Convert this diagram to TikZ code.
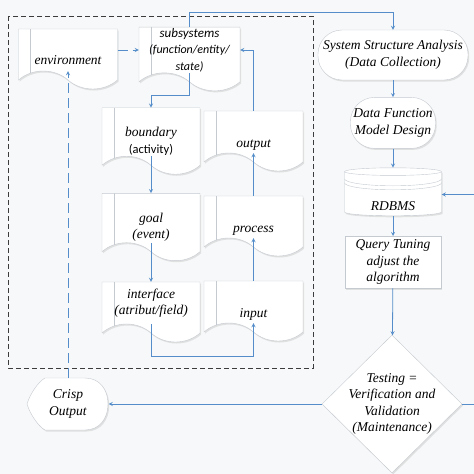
\documentclass[tikz,border=0pt]{standalone}
\usepackage{fontspec}
\setmainfont{Liberation Serif}
\newfontfamily\calibri{Carlito}
\usepackage{xcolor}
\usetikzlibrary{shapes,shapes.symbols,shapes.geometric,arrows,positioning,calc,shadows}

\definecolor{pagebg}{RGB}{247,248,249}
\definecolor{flowblue}{RGB}{84,141,201}
\definecolor{shapeline}{RGB}{196,202,208}
\definecolor{boxline}{RGB}{60,60,60}

\begin{document}
\begin{tikzpicture}[x=1pt, y=-1pt, node distance=18pt,
    every node/.style={font=\fontsize{13.5}{16.5}\selectfont\itshape},
    softshadow/.style={drop shadow={shadow xshift=1.2pt, shadow yshift=-1.5pt, opacity=0.25, fill=black!40}},
    docshape/.style={tape, tape bend top=none, tape bend bottom=out and in, tape bend height=18pt, draw=shapeline, fill=white, minimum width=99pt, minimum height=60pt, inner sep=1pt, align=center, softshadow,
        path picture={\draw[shapeline] ([xshift=12pt]path picture bounding box.north west) -- ([xshift=12pt]path picture bounding box.south west);}},
    lowtext/.style={text height=#1},
    terminal/.style={rectangle, rounded corners=24pt, draw=shapeline, fill=white, minimum width=150pt, minimum height=50pt, inner sep=1pt, align=center, softshadow},
    dbase/.style={cylinder, shape border rotate=90, aspect=0.15, draw=shapeline, fill=white, minimum width=97pt, minimum height=48pt, align=center, softshadow},
    process/.style={rectangle, draw=shapeline, fill=white, minimum width=96pt, minimum height=52pt, inner sep=1pt, align=center, softshadow},
    decision/.style={diamond, aspect=1, draw=shapeline, fill=white, minimum width=140pt, minimum height=138pt, inner sep=-6pt, align=center, softshadow},
    arrow/.style={thick, draw=flowblue, ->, >=stealth},
    dasharrow/.style={arrow, dash pattern=on 10pt off 5pt}]

    \fill[pagebg] (0,0) rectangle (474,474);
    \useasboundingbox (0,0) rectangle (474,474);

    % model boxes
    \node[docshape, lowtext=29pt] (environment) at (68,50) {environment};
    \node[docshape, minimum width=101pt] (subsystems) at (189.5,50) {{\calibri\fontsize{13}{16.5}\selectfont\itshape subsystems}\\{\calibri\fontsize{12}{16.5}\selectfont\itshape (function/entity/}\\{\calibri\fontsize{12}{16.5}\selectfont\itshape state)}};
    \node[docshape, minimum width=98pt] (boundary) at (151,132) {\rule{0pt}{28pt}boundary\\{\calibri\fontsize{12.5}{16.5}\selectfont\upshape (activity)}};
    \node[docshape, lowtext=34pt] (output) at (253.5,132) {output};
    \node[docshape, minimum width=98pt] (goal) at (151,218) {\rule{0pt}{28pt}goal\\(event)};
    \node[docshape, lowtext=34pt] (process) at (253.5,217) {process};
    \node[docshape, minimum width=98pt] (interface) at (151,303) {interface\\(atribut/field)};
    \node[docshape, lowtext=34pt] (input) at (253.5,302) {input};

    \draw[boxline, thick, dash pattern=on 5pt off 3pt] (8,16) rectangle (313,368);

    % method column
    \node[terminal] (ssa) at (393,55) {System Structure Analysis\\(Data Collection)};
    \node[terminal, minimum width=85pt, minimum height=51pt, below=17pt of ssa] (dfmd) {Data Function\\Model Design};
    \node[dbase, below=19pt of dfmd,
        path picture={\draw[shapeline] ([yshift=-11pt]path picture bounding box.north west) arc[start angle=180, end angle=360, x radius=48.5pt, y radius=7pt];
                      \draw[shapeline] ([yshift=-15pt]path picture bounding box.north west) arc[start angle=180, end angle=360, x radius=48.5pt, y radius=7pt];}] (rdbms) {\raisebox{-16pt}[0pt][0pt]{RDBMS}};
    \node[process, below=20pt of rdbms] (query) {Query Tuning\\adjust the\\algorithm};
    \node[decision] (testing) at (392,404) {Testing =\\Verification and\\Validation\\(Maintenance)};

    \draw[draw=shapeline, fill=white, softshadow] (45,378) -- (85,378) .. controls (100,378) and (108,390) .. (108,404) .. controls (108,418) and (100,430) .. (85,430) -- (45,430) .. controls (38,426) and (30,414) .. (27,404) .. controls (30,394) and (38,382) .. (45,378) -- cycle;
    \node[minimum width=81pt, minimum height=52pt, align=center, inner sep=0pt] (crisp) at (68,404) {Crisp\\Output};

    % connectors
    \draw[dasharrow] (environment.east) -- (subsystems.west);
    \draw[arrow] (subsystems.south) -- ++(0,22) -| (boundary.north);
    \draw[arrow] (subsystems.north) -- ++(0,-15) -| (ssa.north);
    \draw[arrow] (boundary.south) -- (goal.north);
    \draw[arrow] (goal.south) -- (interface.north);
    \draw[arrow] (interface.south) -- ++(0,32) -| (input.south);
    \draw[arrow] (input.north) -- (process.south);
    \draw[arrow] (process.north) -- (output.south);
    \draw[arrow] (output.north) |- (subsystems.east);
    \draw[arrow] (ssa) -- (dfmd);
    \draw[arrow] (dfmd) -- (rdbms);
    \draw[arrow] (rdbms) -- (query);
    \draw[arrow] (query) -- (testing);
    \draw[arrow] (testing.east) -- ++(25,0) |- (rdbms.east);
    \draw[arrow] (testing.west) -- (crisp.east);
    \draw[dasharrow] (crisp.north) -- (environment.south);

\end{tikzpicture}
\end{document}
